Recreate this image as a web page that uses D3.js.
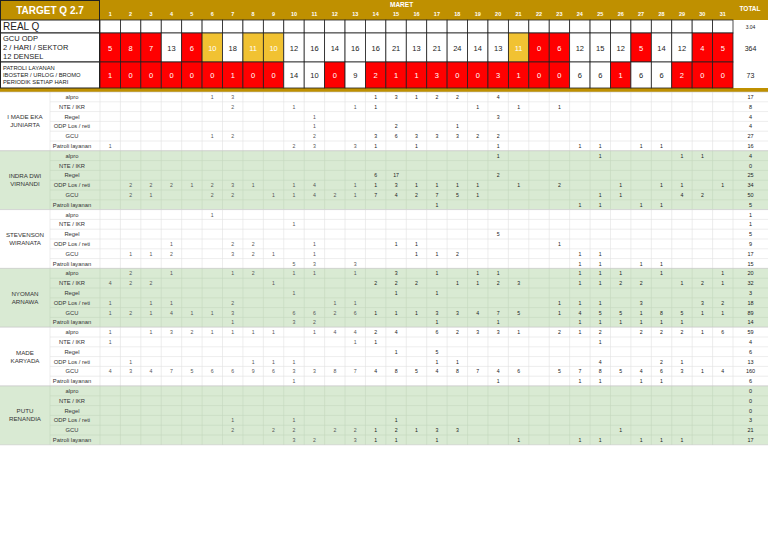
<!DOCTYPE html>
<html>
<head>
<meta charset="utf-8">
<script src="https://cdn.jsdelivr.net/npm/d3@7"></script>
<style>
  body { margin: 0; background: #fff; }
  text { font-family: "Liberation Sans", Arial, sans-serif; }
</style>
</head>
<body>
<svg id="chart"></svg>
<script>
// day columns 1..31 (MARET)
const days = d3.range(1, 32);
const categories = ["alpro", "NTE / IKR", "Regel", "ODP Los / reti", "GCU", "Patroli layanan"];

// target rows
const gcuOdp = [5, 8, 7, 13, 6, 10, 18, 11, 10, 12, 16, 14, 16, 16, 21, 13, 21, 24, 14, 13, 11, 0, 6, 12, 15, 12, 5, 14, 12, 4, 5];
const patroliTarget = [1, 0, 0, 0, 0, 0, 1, 0, 0, 14, 10, 0, 9, 2, 1, 1, 3, 0, 0, 3, 1, 0, 0, 6, 6, 1, 6, 6, 2, 0, 0];
const realQTotal = "3.04";

// per technician, day -> count (blank days omitted)
const madeEka = [
  {6: 1, 7: 3, 14: 1, 15: 3, 16: 1, 17: 2, 18: 2, 20: 4},
  {7: 2, 10: 1, 13: 1, 14: 1, 19: 1, 21: 1, 23: 1},
  {11: 1, 20: 3},
  {11: 1, 15: 2, 18: 1},
  {6: 1, 7: 2, 11: 2, 14: 3, 15: 6, 16: 3, 17: 3, 18: 3, 19: 2, 20: 2},
  {1: 1, 10: 2, 11: 3, 13: 3, 14: 1, 16: 1, 20: 1, 24: 1, 25: 1, 27: 1, 28: 1}
];
const indraDwi = [
  {20: 1, 25: 1, 29: 1, 30: 1},
  {},
  {14: 6, 15: 17, 20: 2},
  {2: 2, 3: 2, 4: 2, 5: 1, 6: 2, 7: 3, 8: 1, 10: 1, 11: 4, 13: 1, 14: 1, 15: 3, 16: 1, 17: 1, 18: 1, 19: 1, 21: 1, 23: 2, 26: 1, 28: 1, 29: 1, 31: 1},
  {2: 2, 3: 1, 6: 2, 7: 2, 9: 1, 10: 1, 11: 4, 12: 2, 13: 1, 14: 7, 15: 4, 16: 2, 17: 7, 18: 5, 19: 1, 25: 1, 26: 1, 29: 4, 30: 2},
  {17: 1, 24: 1, 25: 1, 27: 1, 28: 1}
];
const stevenson = [
  {6: 1},
  {10: 1},
  {20: 5},
  {4: 1, 7: 2, 8: 2, 11: 1, 15: 1, 16: 1, 23: 1},
  {2: 1, 3: 1, 4: 2, 7: 3, 8: 2, 9: 1, 11: 1, 16: 1, 17: 1, 18: 2, 24: 1, 25: 1},
  {10: 5, 11: 3, 13: 3, 24: 1, 25: 1, 27: 1, 28: 1}
];
const nyoman = [
  {2: 2, 4: 1, 7: 1, 8: 2, 10: 1, 11: 1, 13: 1, 15: 3, 17: 1, 19: 1, 20: 1, 24: 1, 25: 1, 26: 1, 28: 1, 31: 1},
  {1: 4, 2: 2, 3: 2, 9: 1, 14: 2, 15: 2, 16: 2, 18: 1, 19: 1, 20: 2, 21: 3, 24: 1, 25: 1, 26: 2, 27: 2, 29: 1, 30: 2, 31: 1},
  {10: 1, 15: 1, 17: 1},
  {1: 1, 3: 1, 4: 1, 7: 2, 12: 1, 13: 1, 23: 1, 24: 1, 25: 1, 27: 3, 30: 3, 31: 2},
  {1: 1, 2: 2, 3: 1, 4: 4, 5: 1, 6: 1, 7: 3, 10: 6, 11: 6, 12: 2, 13: 6, 14: 1, 15: 1, 16: 1, 17: 3, 18: 3, 19: 4, 20: 7, 21: 5, 23: 1, 24: 4, 25: 5, 26: 5, 27: 1, 28: 8, 29: 5, 30: 1, 31: 1},
  {7: 1, 10: 3, 11: 2, 17: 1, 20: 1, 24: 1, 25: 1, 26: 1, 27: 1, 28: 1, 29: 1}
];
const madeKaryada = [
  {1: 1, 3: 1, 4: 3, 5: 2, 6: 1, 7: 1, 8: 1, 9: 1, 11: 1, 12: 4, 13: 4, 14: 2, 15: 4, 17: 6, 18: 2, 19: 3, 20: 3, 21: 1, 23: 2, 24: 1, 25: 2, 27: 2, 28: 2, 29: 2, 30: 1, 31: 6},
  {1: 1, 13: 1, 14: 1, 25: 1},
  {15: 1, 17: 5},
  {2: 1, 8: 1, 9: 1, 10: 1, 17: 1, 18: 1, 25: 4, 28: 2, 29: 1},
  {1: 4, 2: 3, 3: 4, 4: 7, 5: 5, 6: 6, 7: 6, 8: 9, 9: 6, 10: 3, 11: 3, 12: 8, 13: 7, 14: 4, 15: 8, 16: 5, 17: 4, 18: 8, 19: 7, 20: 4, 21: 6, 23: 5, 24: 7, 25: 8, 26: 5, 27: 4, 28: 6, 29: 3, 30: 1, 31: 4},
  {10: 1, 20: 1, 24: 1, 25: 1, 27: 1, 28: 1}
];
const putu = [
  {}, {}, {},
  {7: 1, 10: 1, 15: 1},
  {7: 2, 9: 2, 10: 2, 12: 2, 13: 2, 14: 1, 15: 2, 16: 1, 17: 3, 18: 3, 26: 1},
  {10: 3, 11: 2, 13: 3, 14: 1, 15: 1, 17: 1, 21: 1, 24: 1, 25: 1, 27: 1, 28: 1, 29: 1}
];
const people = [
  {name: ["I MADE EKA", "JUNIARTA"], rows: madeEka},
  {name: ["INDRA DWI", "VIRNANDI"], rows: indraDwi},
  {name: ["STEVENSON", "WIRANATA"], rows: stevenson},
  {name: ["NYOMAN", "ARNAWA"], rows: nyoman},
  {name: ["MADE", "KARYADA"], rows: madeKaryada},
  {name: ["PUTU", "RENANDIA"], rows: putu}
];

const W = 768, H = 543;
const gold = "#bf9000", green = "#d9ead3";
const svg = d3.select("#chart").attr("width", W).attr("height", H);

const x = d3.scaleBand().domain(days).range([100, 733]);
const totalX = 733, totalW = 35;

// ---- header ----
svg.append("rect").attr("x", 0).attr("y", 0).attr("width", W).attr("height", 20).attr("fill", gold);
svg.append("rect").attr("x", 0).attr("y", 88).attr("width", W).attr("height", 4).attr("fill", gold);
svg.append("text").attr("x", 390).attr("y", 7).attr("font-size", 6.5).attr("font-weight", "bold")
  .attr("fill", "#fff").text("MARET");
svg.append("text").attr("x", 750).attr("y", 11).attr("font-size", 6.5).attr("font-weight", "bold")
  .attr("fill", "#fff").attr("text-anchor", "middle").text("TOTAL");
svg.selectAll("text.day").data(days).join("text").attr("class", "day")
  .attr("x", d => x(d) + x.bandwidth() / 2).attr("y", 16)
  .attr("text-anchor", "middle").attr("font-size", 5.5).attr("font-weight", "bold").attr("fill", "#fff")
  .text(d => d);

// left header box
svg.append("rect").attr("x", 0.5).attr("y", 0.5).attr("width", 99).attr("height", 20).attr("fill", gold)
  .attr("stroke", "#222");
svg.append("text").attr("x", 50).attr("y", 14).attr("text-anchor", "middle").attr("font-size", 10)
  .attr("font-weight", "bold").attr("fill", "#fff").text("TARGET Q 2.7");

const headRows = [
  {y: 20, h: 13, values: days.map(() => null), total: realQTotal, lines: ["REAL Q"], fs: 10},
  {y: 33, h: 29, values: gcuOdp, total: d3.sum(gcuOdp), lines: ["GCU ODP", "2 / HARI / SEKTOR", "12 DENSEL"], fs: 7.5},
  {y: 62, h: 26, values: patroliTarget, total: d3.sum(patroliTarget), lines: ["PATROLI LAYANAN", "IBOSTER / URLOG / BROMO", "PERIODIK SETIAP HARI"], fs: 5.8}
];
headRows.forEach((r, ri) => {
  const g = svg.append("g");
  g.append("rect").attr("x", 0.5).attr("y", r.y).attr("width", 99).attr("height", r.h)
    .attr("fill", "#fff").attr("stroke", "#222");
  const lh = r.fs + 1.5;
  g.selectAll("text.lbl").data(r.lines).join("text").attr("class", "lbl")
    .attr("x", 3).attr("y", (d, i) => r.y + r.h / 2 - (r.lines.length - 1) * lh / 2 + i * lh + r.fs * 0.36)
    .attr("font-size", r.fs).attr("fill", "#222").text(d => d);
  const fill = v => {
    if (v == null) return "#fff";
    if (ri === 1) return v < 10 ? "#ff0000" : v < 12 ? "#f1c232" : "#fff";
    return v < 6 ? "#ff0000" : "#fff";
  };
  g.selectAll("rect.c").data(r.values).join("rect").attr("class", "c")
    .attr("x", (d, i) => x(days[i])).attr("y", r.y).attr("width", x.bandwidth()).attr("height", r.h)
    .attr("fill", fill).attr("stroke", "#222").attr("stroke-width", 0.8);
  g.selectAll("text.v").data(r.values).join("text").attr("class", "v")
    .attr("x", (d, i) => x(days[i]) + x.bandwidth() / 2).attr("y", r.y + r.h / 2 + 3)
    .attr("text-anchor", "middle").attr("font-size", 7.5)
    .attr("fill", d => fill(d) === "#fff" ? "#222" : "#fff")
    .text(d => d == null ? "" : d);
  g.append("text").attr("x", totalX + totalW / 2).attr("y", r.y + r.h / 2 + (ri === 0 ? 2 : 3))
    .attr("text-anchor", "middle").attr("font-size", ri === 0 ? 5 : 7).attr("fill", "#222").text(r.total);
});

// ---- body ----
const bodyTop = 92, rh = 9.8;
const body = svg.append("g");
people.forEach((p, pi) => {
  const y0 = bodyTop + pi * 6 * rh;
  const bg = pi % 2 ? green : "#fff";
  const line = pi % 2 ? "#c4d6bd" : "#e0e0e0";
  body.append("rect").attr("x", 0).attr("y", y0).attr("width", W).attr("height", 6 * rh).attr("fill", bg);
  // grid
  days.concat([32]).forEach(d => {
    const gx = d === 32 ? totalX : x(d);
    body.append("line").attr("x1", gx).attr("x2", gx).attr("y1", y0).attr("y2", y0 + 6 * rh)
      .attr("stroke", line).attr("stroke-width", 0.6);
  });
  body.append("line").attr("x1", 50).attr("x2", 50).attr("y1", y0).attr("y2", y0 + 6 * rh)
    .attr("stroke", line).attr("stroke-width", 0.6);
  d3.range(7).forEach(i => {
    body.append("line").attr("x1", i === 0 || i === 6 ? 0 : 50).attr("x2", W)
      .attr("y1", y0 + i * rh).attr("y2", y0 + i * rh)
      .attr("stroke", i === 0 || i === 6 ? "#c8c8c8" : line).attr("stroke-width", 0.6);
  });
  body.append("g").selectAll("text").data(p.name).join("text")
    .attr("x", 25).attr("y", (d, i) => y0 + 3 * rh + (i - 0.5) * 8 + 2)
    .attr("text-anchor", "middle").attr("font-size", 6.2).attr("fill", "#333").text(d => d);
  p.rows.forEach((row, ci) => {
    const cy = y0 + ci * rh + rh / 2 + 2;
    body.append("text").attr("x", 72).attr("y", cy).attr("text-anchor", "middle")
      .attr("font-size", 5.8).attr("fill", "#333").text(categories[ci]);
    const vals = days.map(d => row[d] || 0);
    body.append("g").selectAll("text").data(vals).join("text")
      .attr("x", (d, i) => x(days[i]) + x.bandwidth() / 2).attr("y", cy)
      .attr("text-anchor", "middle").attr("font-size", 5.2)
      .attr("fill", (d, i) => days[i] >= 14 ? "#222" : "#555")
      .text(d => d ? d : "");
    body.append("text").attr("x", totalX + totalW / 2).attr("y", cy).attr("text-anchor", "middle")
      .attr("font-size", 5.5).attr("fill", "#222").text(d3.sum(vals));
  });
});
</script>
</body>
</html>
